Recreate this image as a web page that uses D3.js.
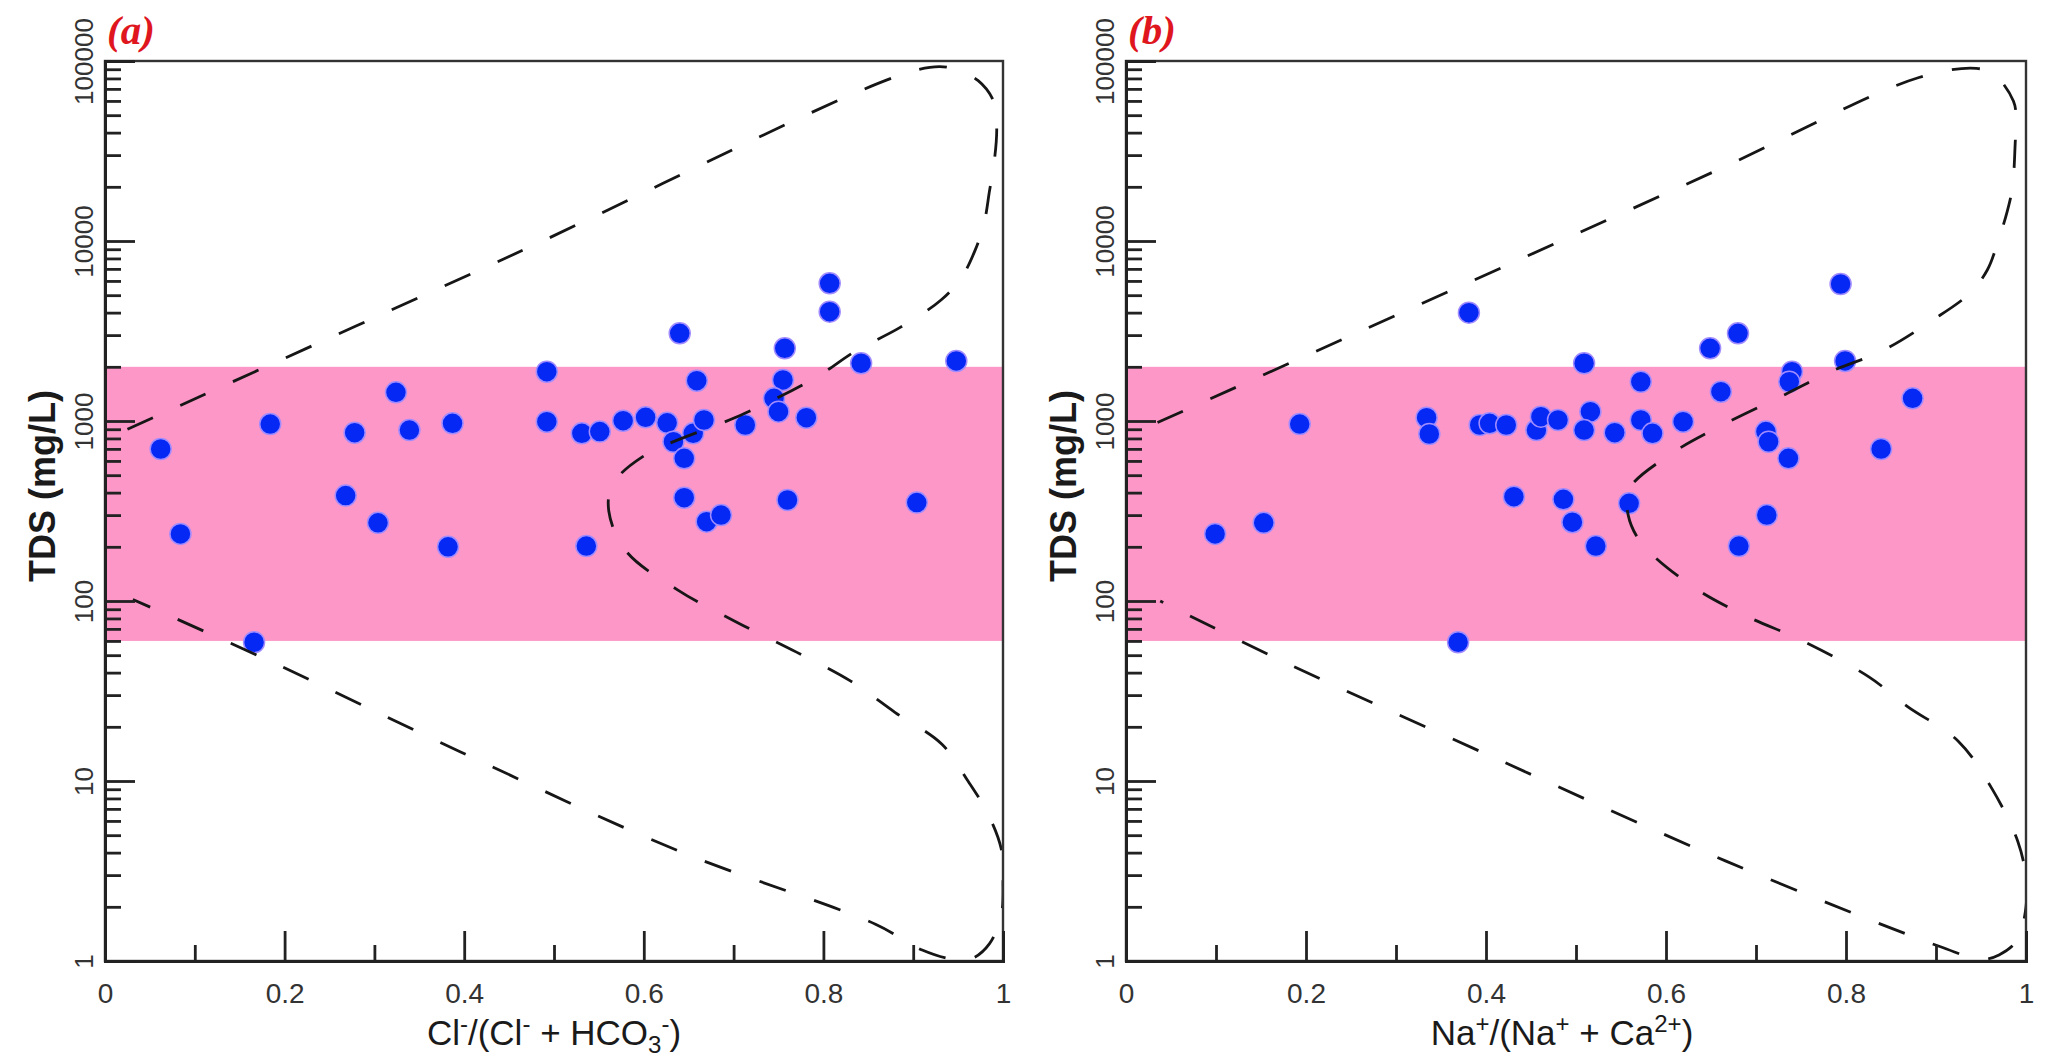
<!DOCTYPE html>
<html>
<head>
<meta charset="utf-8">
<title>Gibbs diagram</title>
<script src="https://cdn.jsdelivr.net/npm/d3@7/dist/d3.min.js"></script>
<style>
  body { margin:0; background:#fff; }
  svg { display:block; font-family:"Liberation Sans", Arial, sans-serif; }
  .tick text { fill:#333; }
</style>
</head>
<body>
<div id="container"></div>
<script>
// ---- data ----
// (a) Cl-/(Cl- + HCO3-) vs TDS
var clRatio = [0.062,0.084,0.166,0.184,0.278,0.268,0.324,0.339,0.304,0.387,0.382,0.492,0.492,
  0.531,0.551,0.577,0.602,0.626,0.633,0.645,0.655,0.667,0.640,0.659,0.645,0.670,0.686,0.536,
  0.713,0.757,0.755,0.745,0.750,0.781,0.760,0.807,0.807,0.842,0.948,0.904];
var clTDS = [699,236,59,962,861,385,1443,891,272,971,200,1879,991,
  854,873,1004,1048,977,767,620,854,1013,3070,1675,375,276,300,202,
  950,2535,1690,1336,1127,1043,364,5820,4050,2093,2155,352];

// (b) Na+/(Na+ + Ca2+) vs TDS
var naRatio = [0.099,0.153,0.193,0.381,0.369,0.334,0.337,0.393,0.404,0.4225,0.456,0.461,0.480,
  0.431,0.486,0.496,0.509,0.516,0.509,0.543,0.572,0.572,0.585,0.619,0.559,0.522,
  0.661,0.649,0.680,0.740,0.737,0.711,0.714,0.736,0.712,0.681,0.794,0.799,0.874,0.839];
var naTDS = [236,272,962,4000,59,1043,847,950,971,950,891,1057,1013,
  380,367,274,2093,1127,891,861,1652,1013,854,991,349,202,
  1455,2535,3070,1879,1652,873,767,620,300,202,5770,2155,1336,699];

// Gibbs boundary (ratio, TDS), traced along the dashed envelope
var gibbsA = [[0.025,900],[0.45,8200],[0.90,88000],[0.94,92000],[0.972,78000],[0.99,59000],
  [0.993,42000],[0.99,27000],[0.985,19000],[0.979,12600],[0.969,8900],[0.954,6300],[0.931,4700],
  [0.885,3300],[0.836,2450],[0.791,1740],[0.712,1100],[0.598,630],[0.565,440],[0.561,316],
  [0.58,190],[0.638,115],[0.704,76],[0.77,52],[0.83,36],[0.88,24],[0.932,16],[0.961,10],
  [0.983,6.6],[0.998,4.2],[1.0,2.75],[0.998,1.8],[0.985,1.25],[0.965,1.03],[0.945,1.02],
  [0.91,1.15],[0.858,1.6],[0.638,4.1],[0.396,14.5],[0.181,47],[0.031,102]];
var gibbsB = [[0.035,980],[0.651,24000],[0.881,81000],[0.945,91000],[0.965,84000],[0.986,60000],
  [0.989,49000],[0.988,35000],[0.985,20000],[0.979,14500],[0.969,10000],[0.957,6900],[0.937,5100],
  [0.896,3630],[0.840,2450],[0.785,1900],[0.733,1410],[0.659,930],[0.60,630],[0.559,417],
  [0.558,300],[0.573,209],[0.630,120],[0.688,83],[0.752,60],[0.825,38],[0.868,26],[0.925,16.6],
  [0.962,9.1],[0.991,4.6],[1.0,2.9],[1.0,2.0],[0.99,1.3],[0.97,1.08],[0.95,1.02],
  [0.905,1.2],[0.666,3.6],[0.413,13.2],[0.175,46],[0.038,100]];

var bandTDS = [60, 2000];
var xTicks = [0, 0.2, 0.4, 0.6, 0.8, 1];
var xMinor = [0.1, 0.3, 0.5, 0.7, 0.9];
var yTicks = [1, 10, 100, 1000, 10000, 100000];
var yMinor = [];
yTicks.slice(0, -1).forEach(function(d){ for (var k = 2; k < 10; k++) yMinor.push(d*k); });

var W = 2046, H = 1062;
var plotTop = 61, plotBottom = 961;

var svg = d3.select("#container").append("svg")
    .attr("width", W)
    .attr("height", H);

var panels = [
  {id:"a", left:105, right:1003, xs:clRatio, ys:clTDS, line:gibbsA, tag:"(a)",
   title:[{t:"Cl"},{t:"-",s:-13,sm:1},{t:"/(Cl"},{t:"-",s:-13,sm:1},{t:" + HCO"},{t:"3",s:8,sm:1},{t:"-",s:-13,sm:1},{t:")"}]},
  {id:"b", left:1126, right:2026, xs:naRatio, ys:naTDS, line:gibbsB, tag:"(b)",
   title:[{t:"Na"},{t:"+",s:-13,sm:1},{t:"/(Na"},{t:"+",s:-13,sm:1},{t:" + Ca"},{t:"2+",s:-13,sm:1},{t:")"}]}
];

panels.forEach(drawPanel);

function drawPanel(p){
  var x = d3.scaleLinear().domain([0,1]).range([p.left, p.right]);
  var y = d3.scaleLog().domain([1,100000]).range([plotBottom, plotTop]);
  var g = svg.append("g").attr("id","panel-"+p.id);

  g.append("defs").append("clipPath").attr("id","clip-"+p.id)
    .append("rect").attr("x",p.left).attr("y",plotTop)
    .attr("width",p.right-p.left).attr("height",plotBottom-plotTop);

  // pink TDS band
  g.append("rect")
    .attr("x", x(0)).attr("width", x(1)-x(0))
    .attr("y", y(bandTDS[1])).attr("height", y(bandTDS[0]) - y(bandTDS[1]))
    .attr("fill","#fd97c7");

  // samples
  g.append("g").selectAll("circle")
    .data(p.xs.map(function(v,i){ return [v, p.ys[i]]; }))
    .enter().append("circle")
    .attr("cx", function(d){ return x(d[0]); })
    .attr("cy", function(d){ return y(d[1]); })
    .attr("r", 10.5)
    .attr("fill","#0528f5")
    .attr("stroke","#a08cff")
    .attr("stroke-width",1.5);

  // Gibbs envelope
  var gline = d3.line()
    .x(function(d){ return x(d[0]); })
    .y(function(d){ return y(d[1]); })
    .curve(d3.curveCatmullRom.alpha(0.5));
  g.append("path")
    .datum(p.line)
    .attr("d", gline)
    .attr("clip-path","url(#clip-"+p.id+")")
    .attr("fill","none")
    .attr("stroke","#161616")
    .attr("stroke-width",2.8)
    .attr("stroke-dasharray","28,30");

  // frame
  g.append("rect")
    .attr("x",p.left).attr("y",plotTop)
    .attr("width",p.right-p.left).attr("height",plotBottom-plotTop)
    .attr("fill","none").attr("stroke","#333").attr("stroke-width",2.4);

  // minor ticks
  g.append("g").attr("transform","translate(0,"+plotBottom+")")
    .call(d3.axisBottom(x).tickValues(xMinor).tickSize(-16).tickFormat(""));
  g.append("g").attr("transform","translate("+p.left+",0)")
    .call(d3.axisLeft(y).tickValues(yMinor).tickSize(-16).tickFormat(""));

  // major ticks + labels
  var xa = g.append("g").attr("class","x-ax").attr("transform","translate(0,"+plotBottom+")")
    .call(d3.axisBottom(x).tickValues(xTicks).tickSize(-30).tickPadding(22)
      .tickFormat(function(d){ return d3.format("")(d); }));
  xa.selectAll(".tick text").style("font-size","28px");

  var ya = g.append("g").attr("class","y-ax").attr("transform","translate("+p.left+",0)")
    .call(d3.axisLeft(y).tickValues(yTicks).tickSize(-30).tickFormat(d3.format("d")));
  ya.selectAll(".tick text")
    .attr("x",0).attr("dy",0)
    .attr("text-anchor","middle")
    .attr("transform","translate(-12,0) rotate(-90)")
    .style("font-size","26px");

  g.selectAll(".domain, .tick line").attr("stroke","#222").attr("stroke-width",2.8);
  g.selectAll(".domain").attr("stroke-width",3);

  // axis titles
  var xt = g.append("text")
    .attr("x", (p.left+p.right)/2 - (p.id=="b" ? 14 : 0))
    .attr("y", 1045)
    .attr("text-anchor","middle")
    .style("font-size","35px")
    .attr("fill","#1a1a1a");
  var prev = 0;
  p.title.forEach(function(part){
    var s = part.s || 0;
    xt.append("tspan").attr("dy", s - prev)
      .style("font-size", part.sm ? "24px" : "35px")
      .text(part.t);
    prev = s;
  });

  g.append("text")
    .attr("transform","translate("+(p.left-50)+","+((plotTop+plotBottom)/2 - 25)+") rotate(-90)")
    .attr("text-anchor","middle")
    .style("font-size","36px")
    .style("font-weight","bold")
    .attr("fill","#1a1a1a")
    .text("TDS (mg/L)");

  g.append("text")
    .attr("x", p.left + 2)
    .attr("y", 44)
    .style("font-family","'Liberation Serif', 'Times New Roman', serif")
    .style("font-style","italic")
    .style("font-weight","bold")
    .style("font-size","41px")
    .attr("fill","#e0161e")
    .text(p.tag);
}
</script>
</body>
</html>
